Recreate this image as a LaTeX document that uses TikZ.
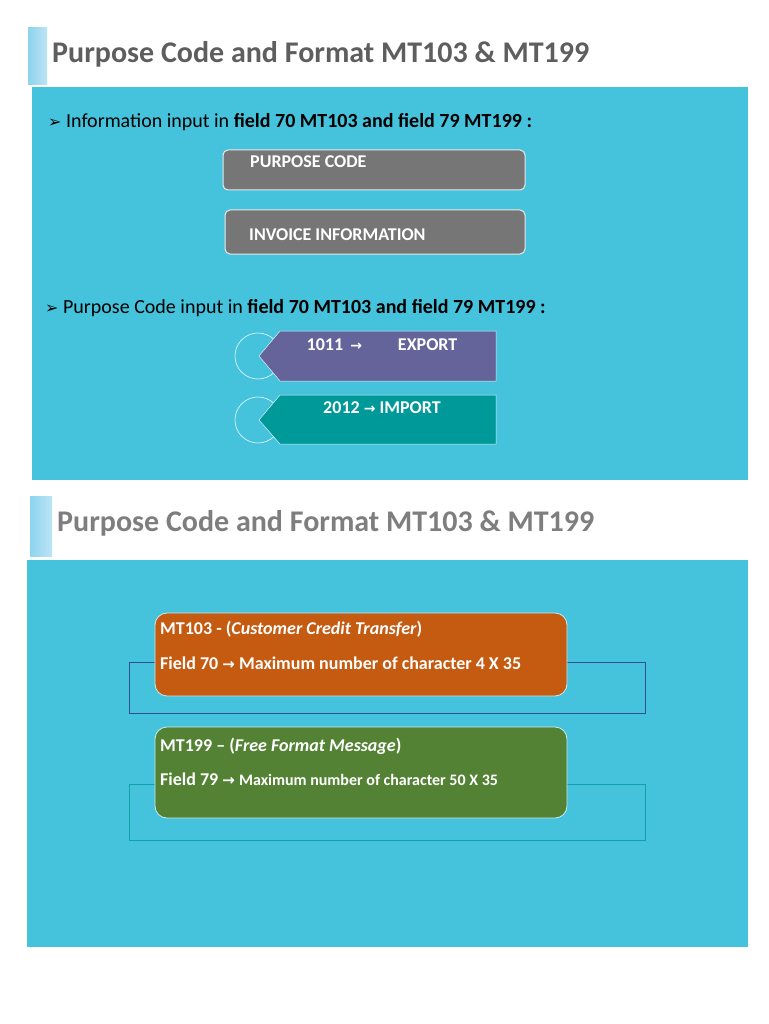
\documentclass[tikz,border=0pt]{standalone}
\usepackage{fontspec}
\setmainfont{Carlito}
\newfontfamily\dvs{DejaVu Sans}
\usetikzlibrary{shapes.geometric}
\definecolor{cyanbg}{HTML}{45C3DC}
\definecolor{titlegray}{HTML}{5E5E5E}
\definecolor{boxgray}{HTML}{767676}
\definecolor{purp}{HTML}{65649A}
\definecolor{tealc}{HTML}{00999A}
\definecolor{orng}{HTML}{C55A11}
\definecolor{grn}{HTML}{548235}
\definecolor{navy}{HTML}{2F4F8F}
\definecolor{barblue}{HTML}{8ED3EE}
\tikzset{
  title/.style={anchor=west,font=\fontsize{30}{34}\selectfont\bfseries,text=titlegray,inner sep=0},
  bullet/.style={anchor=west,font=\fontsize{20}{24}\selectfont,inner sep=0},
  graybox/.style={fill=boxgray,draw=white!85!boxgray,line width=1pt,rounded corners=5pt},
  boxtxt/.style={anchor=west,text=white,font=\fontsize{18}{22}\selectfont\bfseries,inner sep=0},
  tagtxt/.style={text=white,font=\fontsize{18}{22}\selectfont\bfseries,inner sep=0},
  msgbox/.style={draw=white!70!cyanbg,line width=0.8pt,rounded corners=12pt},
  msgtxt/.style={anchor=west,text=white,font=\fontsize{18}{22}\selectfont\bfseries,inner sep=0},
}
\begin{document}
\begin{tikzpicture}[x=1pt,y=-1pt]
\useasboundingbox (0,0) rectangle (768,1024);
\fill[white] (0,0) rectangle (768,1024);
% title 1
\shade[left color=barblue,right color=barblue!60!white] (28,28) rectangle (47,85);
\node[title] (t1) at (52,54) {Purpose Code and Format MT103 \& MT199};
\fill[cyanbg] (32,87) rectangle (748,480);
\node[bullet] (b1) at (48,122) {{\dvs\fontsize{16}{20}\selectfont ➢} Information input in \textbf{field 70 MT103 and field 79 MT199 :}};
\draw[graybox] (223,150) rectangle (525,190);
\node[boxtxt] (pc) at (250,162) {PURPOSE CODE};
\draw[graybox] (225,210) rectangle (525,254);
\node[boxtxt] (ii) at (249,235) {INVOICE INFORMATION};
\node[bullet] (b2) at (45,308) {{\dvs\fontsize{16}{20}\selectfont ➢} Purpose Code input in \textbf{field 70 MT103 and field 79 MT199 :}};
% tags
\draw[white!80!cyanbg,line width=0.7pt] (258,356) circle (23);
\fill[purp,draw=white!80!cyanbg,line width=0.5pt] (259,356) -- (280,331) -- (496,331) -- (496,381) -- (280,381) -- cycle;
\node[tagtxt] (ex) at (382,345) {1011 \,{\dvs\fontsize{14}{16}\selectfont →}\qquad EXPORT};
\draw[white!80!cyanbg,line width=0.7pt] (258,420) circle (23);
\fill[tealc,draw=white!80!cyanbg,line width=0.5pt] (259,420) -- (280,395) -- (496,395) -- (496,444) -- (280,444) -- cycle;
\node[tagtxt] (im) at (382,408) {2012 {\dvs\fontsize{14}{16}\selectfont →} IMPORT};
% title 2
\shade[left color=barblue,right color=barblue!60!white] (30,496) rectangle (52,556);
\node[title,text=titlegray!80!white] (t2) at (57,523) {Purpose Code and Format MT103 \& MT199};
\fill[cyanbg] (27,560) rectangle (748,947);
% frames
\draw[navy,line width=1pt] (155,662) -- (129,662) -- (129,713) -- (645,713) -- (645,662) -- (567,662);
\draw[tealc!80!cyanbg,line width=1pt] (155,784) -- (129,784) -- (129,840) -- (645,840) -- (645,784) -- (567,784);
\draw[msgbox,fill=orng] (155,613) rectangle (567,696);
\node[msgtxt] (m1a) at (160,629) {MT103 - (\textit{Customer Credit Transfer})};
\node[msgtxt] (m1b) at (160,663) {Field 70 {\dvs\fontsize{15}{17}\selectfont →} Maximum number of character 4 X 35};
\draw[msgbox,fill=grn] (155,727) rectangle (567,818);
\node[msgtxt] (m2a) at (160,746) {MT199 -- (\textit{Free Format Message})};
\node[msgtxt] (m2b) at (160,779) {Field 79 {\dvs\fontsize{15}{17}\selectfont →} {\fontsize{16}{20}\selectfont Maximum number of character 50 X 35}};
\end{tikzpicture}
\end{document}
